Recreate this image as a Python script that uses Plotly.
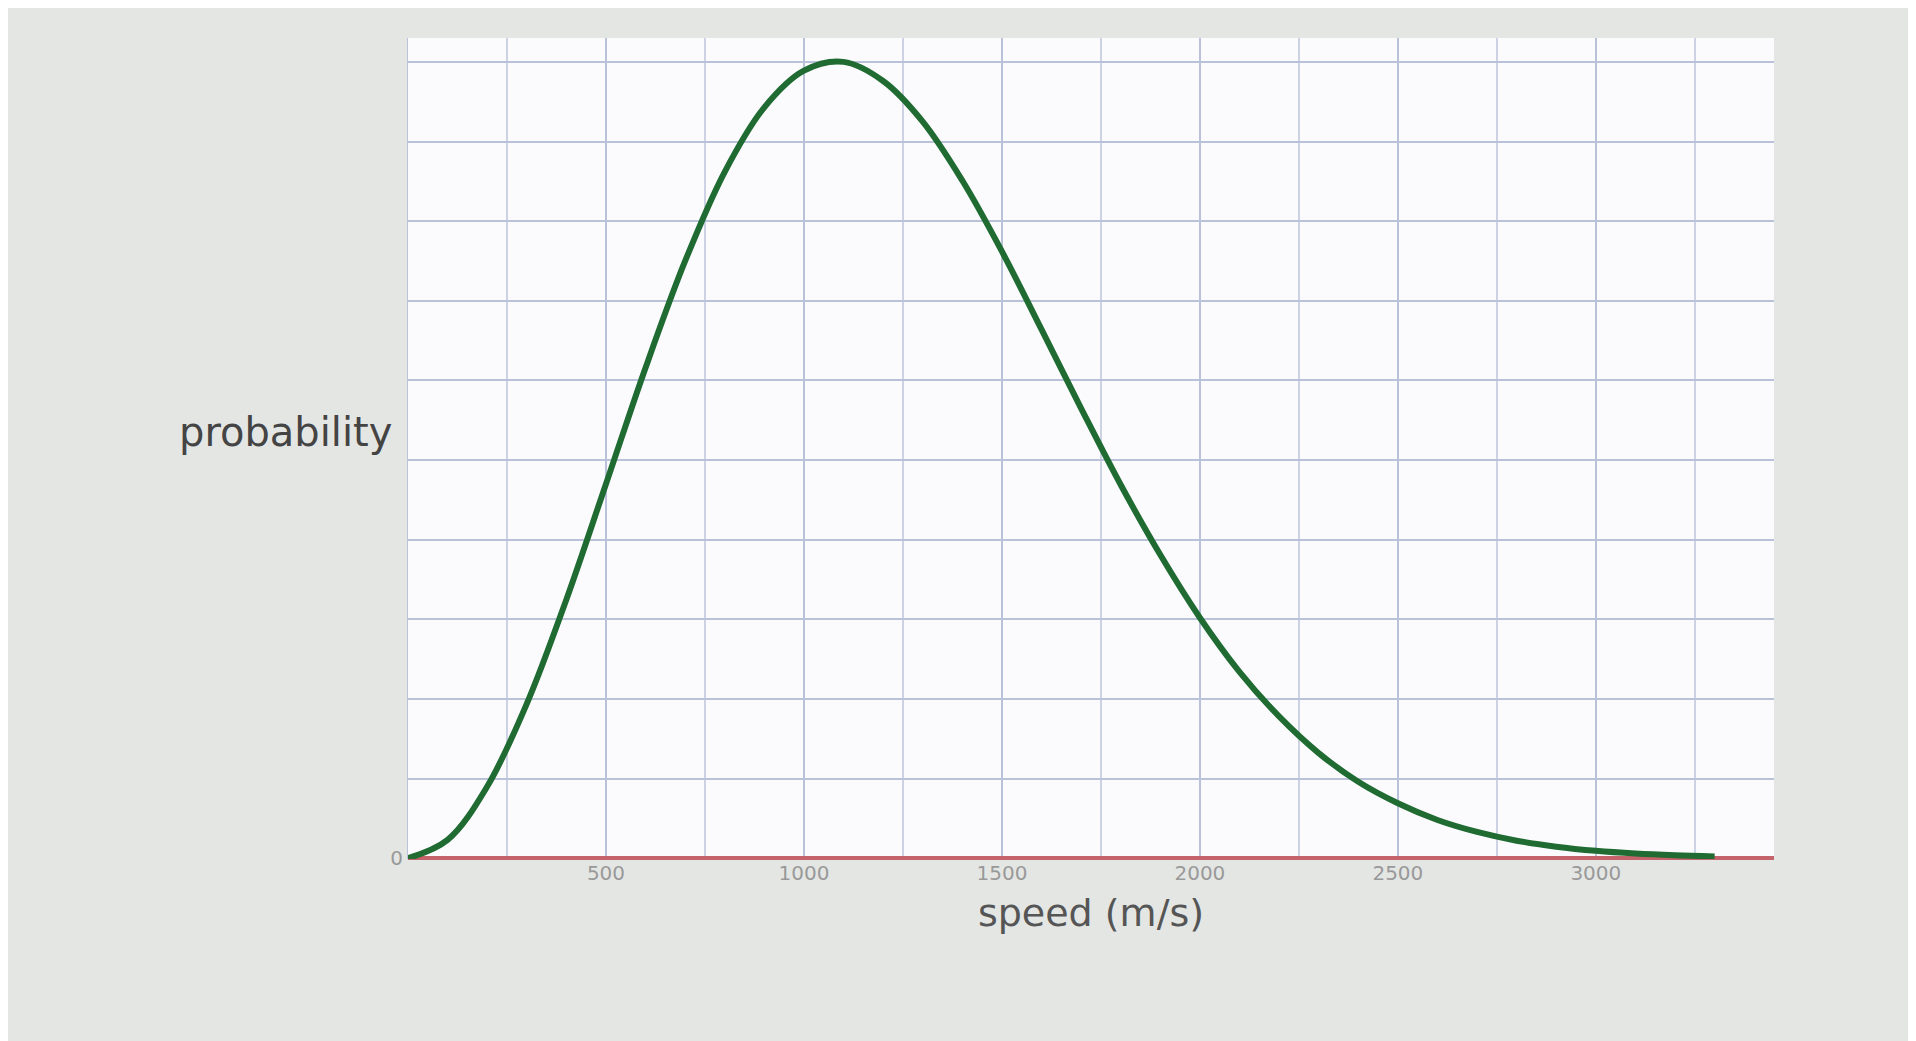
import plotly.graph_objects as go

# speed (m/s) and relative probability
speed = [0, 100, 200, 300, 400, 500, 600, 700, 800, 900, 1000, 1100, 1200, 1300,
         1400, 1500, 1600, 1700, 1800, 1900, 2000, 2100, 2200, 2300, 2400, 2500,
         2600, 2700, 2800, 2900, 3000, 3100, 3200, 3300]
probability = [0, 0.023, 0.090, 0.194, 0.325, 0.470, 0.616, 0.750, 0.862, 0.943,
               0.989, 1.000, 0.976, 0.925, 0.851, 0.762, 0.664, 0.565, 0.469, 0.381,
               0.302, 0.234, 0.178, 0.132, 0.096, 0.069, 0.048, 0.033, 0.022,
               0.0145, 0.0093, 0.0059, 0.0037, 0.0022]
x_ticks = [500, 1000, 1500, 2000, 2500, 3000]

fig = go.Figure()
fig.add_trace(go.Scatter(x=speed, y=probability, mode="lines",
                         line=dict(color="#1f6b32", width=6, shape="spline"),
                         showlegend=False))

fig.update_xaxes(range=[0, 3450], tickvals=x_ticks,
                 ticktext=[str(t) for t in x_ticks],
                 showgrid=True, gridcolor="#b9c2d8", gridwidth=1.5,
                 minor=dict(dtick=250, showgrid=True, gridcolor="#cdd3e4"),
                 zeroline=False, showline=False,
                 tickfont=dict(family="DejaVu Sans", size=20, color="#999"),
                 title=dict(text="speed (m/s)",
                            font=dict(family="DejaVu Sans", size=38, color="#555")))
fig.update_yaxes(range=[-0.001, 1.03], tickvals=[0], ticktext=["0"],
                 showgrid=True, gridcolor="#b9c2d8", gridwidth=1.5,
                 minor=dict(dtick=0.1, showgrid=True, gridcolor="#b9c2d8"),
                 zeroline=True, zerolinecolor="#c4636b", zerolinewidth=4,
                 showline=True, linecolor="#b9c2d8",
                 tickfont=dict(family="DejaVu Sans", size=20, color="#999"))

fig.add_annotation(text="probability", xref="paper", yref="paper",
                   x=-0.01, y=0.52, xanchor="right", showarrow=False,
                   font=dict(family="DejaVu Sans", size=40, color="#444"))

fig.update_layout(width=1916, height=1041, paper_bgcolor="#e4e6e4",
                  plot_bgcolor="#fbfbfd",
                  margin=dict(l=400, r=150, t=30, b=190))

fig.write_html("out.html")
